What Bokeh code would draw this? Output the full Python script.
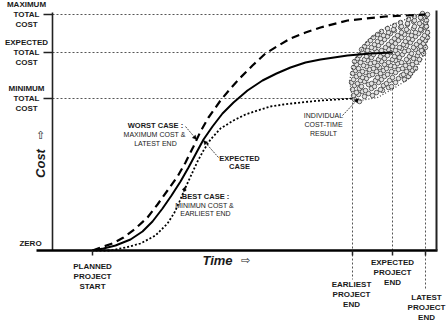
from bokeh.plotting import figure
from bokeh.models import Range1d, Arrow, NormalHead
from bokeh.core.properties import value
from bokeh.embed import file_html
from bokeh.resources import INLINE

# ---- data (time units, cost units) ----
t_start = 0
t_earliest, t_expected, t_latest = 260, 300, 333
c_min, c_exp, c_max = 152, 198, 236

worst_t = [0, 8, 20, 31, 43, 55, 65, 75, 85, 93, 101, 108, 116, 128, 138, 148, 160, 173, 186, 198, 213, 228, 255, 293, 333]
worst_c = [0, 3, 7, 13, 22, 33, 46, 60, 74, 88, 104, 119, 133, 150, 162, 173, 185, 197, 205, 212, 218, 223, 230, 234, 236]

exp_t = [0, 11, 23, 38, 50, 60, 70, 79, 88, 96, 104, 111, 120, 130, 141, 155, 170, 184, 198, 213, 228, 255, 278, 300]
exp_c = [0, 2, 5, 11, 19, 29, 42, 55, 69, 83, 98, 111, 124, 137, 148, 160, 170, 177, 183, 188, 191, 195, 197, 198]

best_t = [3, 18, 33, 48, 63, 75, 82, 87, 93, 99, 105, 111, 118, 128, 141, 153, 165, 178, 191, 208, 228, 260]
best_c = [0, 0, 3, 7, 15, 27, 38, 49, 63, 76, 89, 100, 111, 122, 130, 136, 140, 144, 146, 148, 150, 152]

outline_t = [260, 257, 262, 275, 295, 318, 333, 337, 329, 318, 301, 285, 268, 260]
outline_c = [152, 170, 190, 210, 224, 233, 237, 217, 190, 173, 162, 153, 150, 152]

cloud_points = [
    (262,151),(267,149),
    (261,155),(266,156),(272,154),(280,155),
    (264,158),(270,159),(276,157),(284,158),(290,160),
    (260,161),(267,162),(273,160),(279,162),(288,161),(296,163),
    (262,165),(269,164),(276,166),(282,164),(291,165),(299,164),
    (259,168),(265,167),(272,169),(279,167),(286,168),(294,167),(303,168),
    (261,171),(268,170),(274,172),(283,170),(289,171),(297,170),(306,172),(312,171),
    (264,174),(270,173),(277,175),(285,173),(292,174),(300,173),(309,175),(316,174),
    (260,177),(267,176),(273,178),(280,176),(288,177),(295,176),(303,178),(311,176),(318,177),
    (263,180),(270,179),(277,181),(284,179),(291,180),(299,179),(306,181),(314,179),(320,180),
    (261,183),(266,182),(274,184),(281,182),(287,183),(294,182),(302,184),(310,182),(317,183),(323,182),
    (264,186),(271,185),(278,187),(285,185),(292,186),(298,185),(305,187),(313,185),(320,186),
    (262,189),(268,188),(275,190),(282,188),(289,189),(296,188),(303,190),(309,188),(316,189),(324,188),
    (265,192),(272,191),(279,193),(286,191),(292,192),(300,191),(307,193),(314,191),(321,192),(327,191),
    (267,195),(274,194),(281,196),(288,194),(295,195),(302,194),(310,196),(317,194),(325,195),
    (270,198),(277,197),(284,199),(291,197),(298,198),(305,197),(312,199),(319,197),(326,198),(331,197),
    (269,201),(275,200),(282,202),(289,200),(296,201),(303,200),(309,202),(316,200),(323,201),(329,200),
    (272,204),(279,203),(286,205),(293,203),(300,204),(307,203),(314,205),(321,203),(328,204),(333,203),
    (275,207),(282,206),(289,208),(296,206),(303,207),(311,206),(318,208),(324,206),(331,207),
    (278,210),(285,209),(292,211),(299,209),(306,210),(313,209),(320,211),(327,209),(333,210),
    (281,213),(288,212),(295,214),(302,212),(309,213),(316,212),(323,214),(330,212),(335,213),
    (285,216),(291,215),(298,217),(305,215),(312,216),(319,215),(326,217),(332,215),
    (289,219),(296,218),(302,220),(309,218),(316,219),(323,218),(329,220),(335,218),
    (295,222),(301,221),(308,223),(314,221),(321,222),(328,221),(333,223),
    (302,225),(309,224),(315,226),(322,224),(329,225),(334,224),
    (308,228),(315,227),(321,229),(327,227),(333,228),
    (316,231),(322,230),(329,232),(334,230),
    (322,234),(328,233),(334,235),
    (330,237),(335,236),
]
cloud_t = [p[0] for p in cloud_points]
cloud_c = [p[1] for p in cloud_points]

cost_labels = [["MAXIMUM", "TOTAL", "COST"], ["EXPECTED", "TOTAL", "COST"], ["MINIMUM", "TOTAL", "COST"]]
time_labels = [["PLANNED", "PROJECT", "START"], ["EARLIEST", "PROJECT", "END"],
               ["EXPECTED", "PROJECT", "END"], ["LATEST", "PROJECT", "END"]]

# ---- figure ----
p = figure(width=448, height=323, x_range=Range1d(-92, 356), y_range=Range1d(-73, 250),
           output_backend="svg", toolbar_location=None, x_axis_type=None, y_axis_type=None,
           min_border=0, min_border_left=0, min_border_right=0, min_border_top=0, min_border_bottom=0)
p.outline_line_color = None
p.grid.visible = False
p.background_fill_color = "white"

FONT = value("Liberation Sans")
INK = "#1a1a1a"
GUIDE = "#555555"

# guide lines
p.segment(x0=[-40, -40, -40], y0=[c_max, c_exp, c_min], x1=[t_latest, t_expected, t_earliest],
          y1=[c_max, c_exp, c_min], line_color=GUIDE, line_width=1, line_dash="2 2")
p.segment(x0=[t_earliest, t_expected, t_latest], y0=[c_min, c_exp, c_max],
          x1=[t_earliest, t_expected, t_latest], y1=[-29, -6, -40],
          line_color=GUIDE, line_width=1, line_dash="2 2")

# cloud
p.scatter(cloud_t, cloud_c, size=4.5, fill_color="#e2e2e2", line_color="#505050", line_width=0.9)
p.line(outline_t, outline_c, line_color="#333333", line_width=1.2, line_dash="1 2")

# curves
p.line(worst_t, worst_c, line_color="black", line_width=2.2, line_dash="8 5")
p.line(exp_t, exp_c, line_color="black", line_width=2)
p.line(best_t, best_c, line_color="black", line_width=1.8, line_dash="2 2")

# axes
p.segment(x0=[-40], y0=[0], x1=[-40], y1=[238], line_color="#222222", line_width=1.6)
p.segment(x0=[-56], y0=[0], x1=[345], y1=[0], line_color="black", line_width=2.5)
p.segment(x0=[344], y0=[0], x1=[344], y1=[240], line_color="#222222", line_width=2)
p.segment(x0=[-49, -49, -49], y0=[c_max, c_exp, c_min], x1=[-40, -40, -40], y1=[c_max, c_exp, c_min],
          line_color="#222222", line_width=1.5)
p.segment(x0=[t_start, t_earliest, t_expected, t_latest], y0=[0, 0, 0, 0],
          x1=[t_start, t_earliest, t_expected, t_latest], y1=[-5, -5, -5, -5],
          line_color="#222222", line_width=1.5)

# cost labels
lx, ly, lt = [], [], []
for lines, yc in zip(cost_labels, [236, 198, 152]):
    for i, s in enumerate(lines):
        lx.append(-66); ly.append(yc + 10 - 10 * i); lt.append(s)
lx.append(-62); ly.append(7); lt.append("ZERO")
p.text(lx, ly, lt, text_font=FONT, text_font_style="bold", text_font_size="8px",
       text_align="center", text_baseline="middle", text_color=INK)

# time labels
bx, by, bt = [], [], []
for lines, xc, yc in zip(time_labels, [t_start, t_earliest - 1, t_expected, t_latest + 1], [-16, -34, -12, -47]):
    for i, s in enumerate(lines):
        bx.append(xc); by.append(yc - 10 * i); bt.append(s)
p.text(bx, by, bt, text_font=FONT, text_font_style="bold", text_font_size="8px",
       text_align="center", text_baseline="middle", text_color=INK)

# axis titles
p.text([-52], [87], ["Cost"], angle=1.5708, text_font=FONT, text_font_style="bold italic",
       text_font_size="13px", text_align="center", text_baseline="middle", text_color=INK)
p.text([-52], [115], ["⇧"], text_font=value("DejaVu Sans"), text_font_size="11px",
       text_align="center", text_baseline="middle", text_color=INK)
p.text([125], [-10], ["Time"], text_font=FONT, text_font_style="bold italic",
       text_font_size="13px", text_align="center", text_baseline="middle", text_color=INK)
p.text([153], [-10], ["⇨"], text_font=value("DejaVu Sans"), text_font_size="11px",
       text_align="center", text_baseline="middle", text_color=INK)

# annotations
p.text([63, 147, 147, 113], [125, 92, 84, 54], ["WORST CASE :", "EXPECTED", "CASE", "BEST CASE :"],
       text_font=FONT, text_font_style="bold", text_font_size="7.5px",
       text_align="center", text_baseline="middle", text_color=INK)
p.text([63, 63, 113, 113, 231, 231, 231], [116, 107, 45, 37, 135, 126, 117],
       ["MAXIMUM  COST &", "LATEST END", "MINIMUN  COST &", "EARLIEST END",
        "INDIVIDUAL", "COST-TIME", "RESULT"],
       text_font=FONT, text_font_size="7px",
       text_align="center", text_baseline="middle", text_color=INK)

for xs, ys, xe, ye in [(93, 124, 104, 111), (126, 93, 111, 110), (90, 56, 93, 64), (250, 135, 266, 152)]:
    p.add_layout(Arrow(end=NormalHead(size=4, fill_color="black", line_color="black", line_width=0.5),
                       x_start=xs, y_start=ys, x_end=xe, y_end=ye,
                       line_color="#222222", line_width=0.8, line_dash="2 1"))

open("out.html", "w").write(file_html(p, INLINE))
